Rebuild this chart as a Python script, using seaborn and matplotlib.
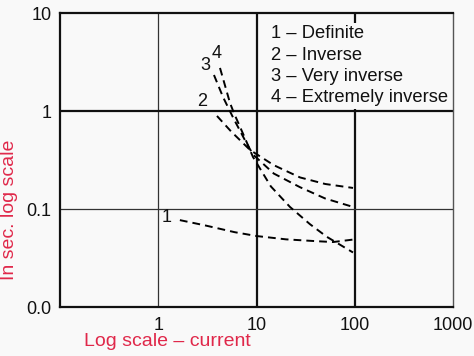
import numpy as np
import pandas as pd
import matplotlib
matplotlib.use("Agg")
import matplotlib.pyplot as plt
import seaborn as sns

# curve points (current multiple, seconds)
x_definite = [1.66, 3.0, 6.0, 10.0, 20.0, 40.0, 60.0, 100.0]
y_definite = [0.077, 0.068, 0.058, 0.053, 0.049, 0.047, 0.046, 0.049]

x_inverse = [3.96, 5.5, 8.6, 15.0, 27.7, 50.0, 96.0]
y_inverse = [0.89, 0.62, 0.40, 0.28, 0.21, 0.18, 0.164]

x_very = [3.69, 4.56, 5.8, 7.5, 9.2, 15.0, 27.7, 50.0, 96.0]
y_very = [2.33, 1.39, 0.85, 0.52, 0.36, 0.23, 0.167, 0.128, 0.105]

x_extreme = [4.25, 5.37, 5.9, 7.5, 9.2, 14.0, 21.9, 35.0, 52.0, 96.0]
y_extreme = [2.75, 1.21, 0.95, 0.55, 0.34, 0.17, 0.105, 0.07, 0.052, 0.036]

names = ["1", "2", "3", "4"]
legend_lines = ["1 \u2013 Definite", "2 \u2013 Inverse",
                "3 \u2013 Very inverse", "4 \u2013 Extremely inverse"]
label_pos = [(1.23, 0.081), (2.79, 1.24), (3.0, 2.88), (3.96, 3.9)]

x_ticks = [1, 10, 100, 1000]
x_ticklabels = ["1", "10", "100", "1000"]
y_ticks = [0.01, 0.1, 1, 10]
y_ticklabels = ["0.0", "0.1", "1", "10"]

frames = []
for n, xs, ys in zip(names, [x_definite, x_inverse, x_very, x_extreme],
                     [y_definite, y_inverse, y_very, y_extreme]):
    frames.append(pd.DataFrame({"current": xs, "time": ys, "curve": n}))
df = pd.concat(frames, ignore_index=True)

sns.set_style("white")
plt.rcParams["font.family"] = ["Liberation Sans", "DejaVu Sans"]

bg = "#f9f9f9"
red = "#e0284a"

fig = plt.figure(figsize=(4.74, 3.56), dpi=100, facecolor=bg)
ax = fig.add_axes([60 / 474, 49 / 356, 393 / 474, 294 / 356])
ax.set_facecolor(bg)

ax.set_xscale("log")
ax.set_yscale("log")
ax.set_xlim(0.1, 1000)
ax.set_ylim(0.01, 10)

# grid lines of varying weight
ax.axvline(1, color="#333333", lw=0.9, zorder=1)
ax.axvline(10, color="#111111", lw=1.6, zorder=1)
ax.axvline(100, color="#111111", lw=1.6, zorder=1)
ax.axhline(1, color="#111111", lw=1.6, zorder=1)
ax.axhline(0.1, color="#333333", lw=0.9, zorder=1)

for n in names:
    sns.lineplot(data=df[df["curve"] == n], x="current", y="time", sort=False,
                 color="black", lw=1.4, ax=ax, zorder=3, estimator=None)
for line in ax.get_lines()[-4:]:
    line.set_dashes((4, 2.6))

for n, (lx, ly) in zip(names, label_pos):
    ax.text(lx, ly, n, fontsize=13, ha="center", va="center", color="#111111", zorder=4)

ax.text(0.537, 0.958, "\n".join(legend_lines), transform=ax.transAxes,
        fontsize=13.2, ha="left", va="top", linespacing=1.32, color="#111111",
        bbox=dict(facecolor=bg, edgecolor="none", pad=2.0), zorder=5)

ax.set_xticks(x_ticks)
ax.set_xticklabels(x_ticklabels)
ax.set_yticks(y_ticks)
ax.set_yticklabels(y_ticklabels)
ax.minorticks_off()
ax.tick_params(length=0, labelsize=13, colors="#111111", pad=6)
ax.tick_params(axis="x", pad=7)

for s in ["left", "bottom", "top"]:
    ax.spines[s].set_linewidth(1.6)
    ax.spines[s].set_color("#111111")
ax.spines["right"].set_linewidth(1.0)
ax.spines["right"].set_color("#555555")

ax.set_xlabel("Log scale \u2013 current", color=red, fontsize=14)
ax.xaxis.set_label_coords(0.272, -0.09)
ax.set_ylabel("In sec. log scale", color=red, fontsize=14)
ax.yaxis.set_label_coords(-0.108, 0.33)

fig.savefig("out.png", dpi=100, facecolor=bg)
